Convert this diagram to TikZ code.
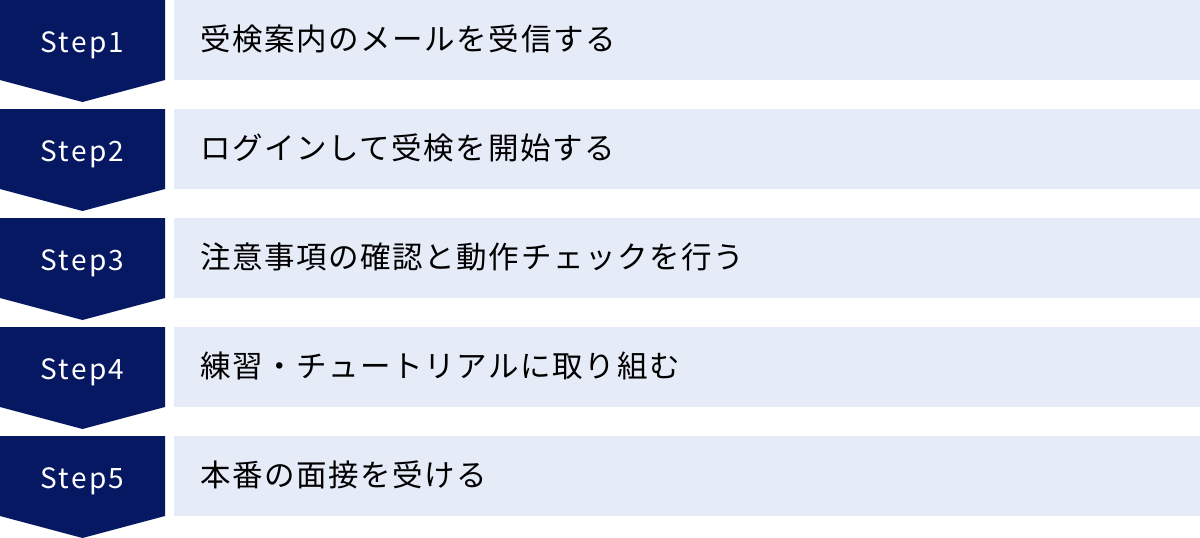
\documentclass[tikz,border=0pt]{standalone}
\usepackage{fontspec}
\setmainfont{Noto Sans CJK JP}
\newfontfamily\stepfont[LetterSpace=8]{Noto Sans CJK JP}
\newfontfamily\taskfont[LetterSpace=5.2]{Noto Sans CJK JP}
\definecolor{stepnavy}{HTML}{061862}
\definecolor{taskpale}{HTML}{E6EBF8}
\begin{document}
\begin{tikzpicture}[x=1pt, y=-1pt,
    stepbox/.style={fill=stepnavy},
    steplabel/.style={text=white, font=\stepfont\fontsize{28}{28}\selectfont,
        anchor=base, inner sep=0pt},
    taskbox/.style={fill=taskpale, minimum width=1026pt, minimum height=80pt,
        inner sep=0pt, anchor=north west},
    tasklabel/.style={font=\taskfont\fontsize{30.5}{30.5}\selectfont,
        anchor=base west, inner sep=0pt}]
\useasboundingbox (0,0) rectangle (1200,538);
\foreach \i/\task in {1/受検案内のメールを受信する,
        2/ログインして受検を開始する,
        3/注意事項の確認と動作チェックを行う,
        4/練習・チュートリアルに取り組む,
        5/本番の面接を受ける}{
    \pgfmathsetmacro\top{(\i-1)*109}
    \fill[stepbox] (0,\top) -- (165,\top) -- (165,\top+80)
        -- (82.5,\top+102) -- (0,\top+80) -- cycle;
    \node[steplabel] (step\i) at (82.5,\top+52) {Step\i};
    \node[taskbox] (box\i) at (174,\top) {};
    \node[tasklabel] (task\i) at (200,\top+50) {\task};
}
\end{tikzpicture}
\end{document}
